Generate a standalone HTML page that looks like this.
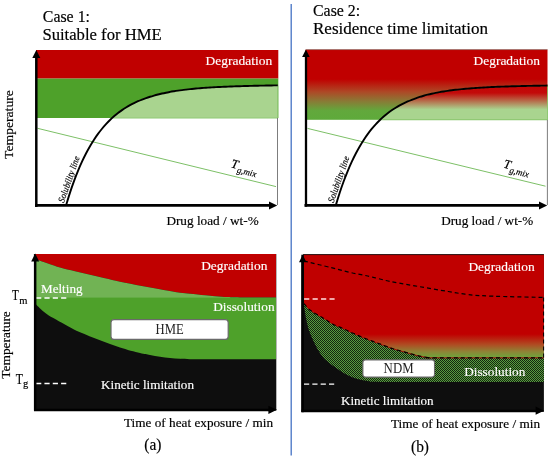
<!DOCTYPE html>
<html><head><meta charset="utf-8"><title>Figure</title>
<style>
html,body{margin:0;padding:0;background:#fff;}
svg{display:block;}
text{font-family:"Liberation Serif",serif;stroke:#000;stroke-width:0.18px;}
text[fill="#fff"]{stroke:#fff;stroke-width:0.15px;}
text.box{stroke:none;fill:#222;}
</style></head><body>
<svg width="550" height="457" viewBox="0 0 550 457">
<defs>
<linearGradient id="gtr" x1="0" y1="0" x2="0" y2="1">
<stop offset="0" stop-color="#C00000"/><stop offset="0.42" stop-color="#C00000"/><stop offset="0.6" stop-color="#AE4826"/><stop offset="0.74" stop-color="#887C36"/><stop offset="0.87" stop-color="#62A83C"/><stop offset="1" stop-color="#5EAA3A"/>
</linearGradient>
<linearGradient id="gtru" gradientUnits="userSpaceOnUse" x1="0" y1="84" x2="0" y2="119.8">
<stop offset="0" stop-color="#C20404"/><stop offset="0.25" stop-color="#C30A0A"/><stop offset="0.71" stop-color="#A9D48F"/><stop offset="1" stop-color="#A9D48F"/>
</linearGradient>
<linearGradient id="gbr" gradientUnits="userSpaceOnUse" x1="0" y1="254.7" x2="0" y2="357.8">
<stop offset="0" stop-color="#C00000"/><stop offset="0.77" stop-color="#C00000"/><stop offset="0.87" stop-color="#B04A22"/><stop offset="0.94" stop-color="#8E8436"/><stop offset="0.995" stop-color="#6EA43C"/><stop offset="1" stop-color="#6EA43C"/>
</linearGradient>
<pattern id="hatch" width="2" height="2" patternUnits="userSpaceOnUse">
<rect width="2" height="2" fill="#12260f"/><rect x="1" y="0" width="1" height="1" fill="#5A9C40"/><rect x="0" y="1" width="1" height="1" fill="#5A9C40"/>
</pattern>
</defs>
<rect width="550" height="457" fill="#fff"/>
<!-- divider -->
<line x1="291.2" y1="4" x2="291.2" y2="455.5" stroke="#4472C4" stroke-width="1.3"/>

<!-- titles -->
<text x="42.8" y="21.8" font-size="16.5" textLength="47.2" lengthAdjust="spacingAndGlyphs">Case 1:</text>
<text x="42.4" y="40.1" font-size="16.5" textLength="119.3" lengthAdjust="spacingAndGlyphs">Suitable for HME</text>
<text x="313" y="16.4" font-size="16.5" textLength="47.2" lengthAdjust="spacingAndGlyphs">Case 2:</text>
<text x="313" y="34.4" font-size="16.5" textLength="175" lengthAdjust="spacingAndGlyphs">Residence time limitation</text>

<!-- top-left plot -->
<rect x="36" y="50" width="242.3" height="28.6" fill="#C00000"/>
<rect x="36" y="78.6" width="242.3" height="39.4" fill="#4EA12A"/>
<path d="M112.09,118.10 L112.09,118.10 C112.41,117.81 113.01,117.18 114.00,116.34 C114.99,115.51 116.67,114.10 118.00,113.06 C119.33,112.03 120.67,111.06 122.00,110.13 C123.33,109.21 124.67,108.34 126.00,107.52 C127.33,106.69 128.67,105.92 130.00,105.18 C131.33,104.45 132.67,103.76 134.00,103.10 C135.33,102.44 136.67,101.82 138.00,101.24 C139.33,100.65 140.67,100.10 142.00,99.57 C143.33,99.05 144.67,98.55 146.00,98.08 C147.33,97.61 148.67,97.17 150.00,96.75 C151.33,96.33 152.67,95.94 154.00,95.56 C155.33,95.19 156.67,94.84 158.00,94.50 C159.33,94.17 160.67,93.85 162.00,93.55 C163.33,93.25 164.67,92.97 166.00,92.70 C167.33,92.43 168.67,92.18 170.00,91.93 C171.33,91.69 172.67,91.47 174.00,91.25 C175.33,91.03 176.67,90.83 178.00,90.64 C179.33,90.44 180.67,90.26 182.00,90.09 C183.33,89.91 184.67,89.75 186.00,89.59 C187.33,89.44 188.67,89.29 190.00,89.15 C191.33,89.01 192.67,88.88 194.00,88.75 C195.33,88.63 196.67,88.51 198.00,88.39 C199.33,88.28 200.67,88.17 202.00,88.07 C203.33,87.97 204.67,87.87 206.00,87.78 C207.33,87.68 208.67,87.60 210.00,87.51 C211.33,87.43 212.67,87.35 214.00,87.28 C215.33,87.20 216.67,87.13 218.00,87.06 C219.33,86.99 220.67,86.93 222.00,86.86 C223.33,86.80 224.67,86.74 226.00,86.69 C227.33,86.63 228.67,86.58 230.00,86.52 C231.33,86.47 232.67,86.42 234.00,86.38 C235.33,86.33 236.67,86.28 238.00,86.24 C239.33,86.20 240.67,86.16 242.00,86.12 C243.33,86.08 244.67,86.04 246.00,86.00 C247.33,85.97 248.67,85.93 250.00,85.90 C251.33,85.87 252.67,85.83 254.00,85.80 C255.33,85.77 256.67,85.74 258.00,85.71 C259.33,85.68 260.67,85.66 262.00,85.63 C263.33,85.60 264.67,85.58 266.00,85.55 C267.33,85.53 268.67,85.50 270.00,85.48 C271.33,85.46 272.70,85.43 274.00,85.41 C275.30,85.39 277.17,85.36 277.80,85.36 L277.80,118.10 Z" fill="#A9D48F" stroke="#86C56B" stroke-width="0.8"/>
<line x1="277.5" y1="118" x2="277.5" y2="205" stroke="#6e6e6e" stroke-width="0.9"/>
<line x1="37.5" y1="128.3" x2="276" y2="186.6" stroke="#7DC067" stroke-width="1"/>
<path d="M66.00,205.47 C66.67,203.33 68.67,196.65 70.00,192.58 C71.33,188.51 72.67,184.70 74.00,181.08 C75.33,177.45 76.67,174.05 78.00,170.82 C79.33,167.58 80.67,164.55 82.00,161.67 C83.33,158.78 84.67,156.08 86.00,153.50 C87.33,150.93 88.67,148.52 90.00,146.22 C91.33,143.92 92.67,141.77 94.00,139.72 C95.33,137.67 96.67,135.75 98.00,133.93 C99.33,132.10 100.67,130.39 102.00,128.75 C103.33,127.12 104.67,125.59 106.00,124.14 C107.33,122.68 108.67,121.32 110.00,120.02 C111.33,118.72 112.67,117.50 114.00,116.34 C115.33,115.18 116.67,114.10 118.00,113.06 C119.33,112.03 120.67,111.06 122.00,110.13 C123.33,109.21 124.67,108.34 126.00,107.52 C127.33,106.69 128.67,105.92 130.00,105.18 C131.33,104.45 132.67,103.76 134.00,103.10 C135.33,102.44 136.67,101.82 138.00,101.24 C139.33,100.65 140.67,100.10 142.00,99.57 C143.33,99.05 144.67,98.55 146.00,98.08 C147.33,97.61 148.67,97.17 150.00,96.75 C151.33,96.33 152.67,95.94 154.00,95.56 C155.33,95.19 156.67,94.84 158.00,94.50 C159.33,94.17 160.67,93.85 162.00,93.55 C163.33,93.25 164.67,92.97 166.00,92.70 C167.33,92.43 168.67,92.18 170.00,91.93 C171.33,91.69 172.67,91.47 174.00,91.25 C175.33,91.03 176.67,90.83 178.00,90.64 C179.33,90.44 180.67,90.26 182.00,90.09 C183.33,89.91 184.67,89.75 186.00,89.59 C187.33,89.44 188.67,89.29 190.00,89.15 C191.33,89.01 192.67,88.88 194.00,88.75 C195.33,88.63 196.67,88.51 198.00,88.39 C199.33,88.28 200.67,88.17 202.00,88.07 C203.33,87.97 204.67,87.87 206.00,87.78 C207.33,87.68 208.67,87.60 210.00,87.51 C211.33,87.43 212.67,87.35 214.00,87.28 C215.33,87.20 216.67,87.13 218.00,87.06 C219.33,86.99 220.67,86.93 222.00,86.86 C223.33,86.80 224.67,86.74 226.00,86.69 C227.33,86.63 228.67,86.58 230.00,86.52 C231.33,86.47 232.67,86.42 234.00,86.38 C235.33,86.33 236.67,86.28 238.00,86.24 C239.33,86.20 240.67,86.16 242.00,86.12 C243.33,86.08 244.67,86.04 246.00,86.00 C247.33,85.97 248.67,85.93 250.00,85.90 C251.33,85.87 252.67,85.83 254.00,85.80 C255.33,85.77 256.67,85.74 258.00,85.71 C259.33,85.68 260.67,85.66 262.00,85.63 C263.33,85.60 264.67,85.58 266.00,85.55 C267.33,85.53 268.67,85.50 270.00,85.48 C271.33,85.46 272.70,85.43 274.00,85.41 C275.30,85.39 277.17,85.36 277.80,85.36" fill="none" stroke="#000" stroke-width="1.9"/>
<line x1="36.3" y1="56" x2="36.3" y2="207" stroke="#000" stroke-width="2.5"/>
<path d="M36.3,50 L40.3,58 L32.3,58 Z" fill="#000"/>
<line x1="35" y1="205.4" x2="270" y2="205.4" stroke="#000" stroke-width="2.6"/>
<path d="M277.2,205.4 L269,201.4 L269,209.4 Z" fill="#000"/>
<text x="205.5" y="64.6" font-size="13.5" fill="#fff" textLength="66.7" lengthAdjust="spacingAndGlyphs">Degradation</text>
<text transform="translate(12.9,158.9) rotate(-90)" font-size="13.5" textLength="68.7" lengthAdjust="spacingAndGlyphs">Temperature</text>
<text x="166.4" y="224.5" font-size="13.5" textLength="92.3" lengthAdjust="spacingAndGlyphs">Drug load / wt-%</text>
<text transform="translate(230.5,167.3) rotate(14)" font-size="12.5" font-style="italic">T<tspan font-size="9" dy="3.5">g,mix</tspan></text>
<text transform="translate(63.8,203.2) rotate(-70.7)" font-size="9.4" font-style="italic" textLength="48.5" lengthAdjust="spacingAndGlyphs">Solubility line</text>

<!-- top-right plot -->
<rect x="305.5" y="49.6" width="242" height="70.2" fill="url(#gtr)"/>
<line x1="306" y1="49.6" x2="547.5" y2="49.6" stroke="#7a5a50" stroke-width="0.6"/>
<path d="M380.16,119.80 L380.16,119.80 C380.75,119.26 382.44,117.63 383.70,116.54 C384.96,115.46 386.37,114.30 387.70,113.26 C389.03,112.23 390.37,111.26 391.70,110.33 C393.03,109.41 394.37,108.54 395.70,107.72 C397.03,106.89 398.37,106.12 399.70,105.38 C401.03,104.65 402.37,103.96 403.70,103.30 C405.03,102.64 406.37,102.02 407.70,101.44 C409.03,100.85 410.37,100.30 411.70,99.77 C413.03,99.25 414.37,98.75 415.70,98.28 C417.03,97.81 418.37,97.37 419.70,96.95 C421.03,96.53 422.37,96.14 423.70,95.76 C425.03,95.39 426.37,95.04 427.70,94.70 C429.03,94.37 430.37,94.05 431.70,93.75 C433.03,93.45 434.37,93.17 435.70,92.90 C437.03,92.63 438.37,92.38 439.70,92.13 C441.03,91.89 442.37,91.67 443.70,91.45 C445.03,91.23 446.37,91.03 447.70,90.84 C449.03,90.64 450.37,90.46 451.70,90.29 C453.03,90.11 454.37,89.95 455.70,89.79 C457.03,89.64 458.37,89.49 459.70,89.35 C461.03,89.21 462.37,89.08 463.70,88.95 C465.03,88.83 466.37,88.71 467.70,88.59 C469.03,88.48 470.37,88.37 471.70,88.27 C473.03,88.17 474.37,88.07 475.70,87.98 C477.03,87.88 478.37,87.80 479.70,87.71 C481.03,87.63 482.37,87.55 483.70,87.48 C485.03,87.40 486.37,87.33 487.70,87.26 C489.03,87.19 490.37,87.13 491.70,87.06 C493.03,87.00 494.37,86.94 495.70,86.89 C497.03,86.83 498.37,86.78 499.70,86.72 C501.03,86.67 502.37,86.62 503.70,86.58 C505.03,86.53 506.37,86.48 507.70,86.44 C509.03,86.40 510.37,86.36 511.70,86.32 C513.03,86.28 514.37,86.24 515.70,86.20 C517.03,86.17 518.37,86.13 519.70,86.10 C521.03,86.07 522.37,86.03 523.70,86.00 C525.03,85.97 526.37,85.94 527.70,85.91 C529.03,85.88 530.37,85.86 531.70,85.83 C533.03,85.80 534.37,85.78 535.70,85.75 C537.03,85.73 538.37,85.70 539.70,85.68 C541.03,85.66 542.40,85.63 543.70,85.61 C545.00,85.59 546.87,85.56 547.50,85.56 L547.50,119.80 Z" fill="url(#gtru)" stroke="#86C56B" stroke-width="0.8"/>
<line x1="547.4" y1="119.8" x2="547.4" y2="205" stroke="#6e6e6e" stroke-width="0.9"/>
<line x1="307.5" y1="128.4" x2="545.5" y2="186.2" stroke="#7DC067" stroke-width="1"/>
<path d="M335.70,205.67 C336.37,203.53 338.37,196.85 339.70,192.78 C341.03,188.71 342.37,184.90 343.70,181.28 C345.03,177.65 346.37,174.25 347.70,171.02 C349.03,167.78 350.37,164.75 351.70,161.87 C353.03,158.98 354.37,156.28 355.70,153.70 C357.03,151.13 358.37,148.72 359.70,146.42 C361.03,144.12 362.37,141.97 363.70,139.92 C365.03,137.87 366.37,135.95 367.70,134.13 C369.03,132.30 370.37,130.59 371.70,128.95 C373.03,127.32 374.37,125.79 375.70,124.34 C377.03,122.88 378.37,121.52 379.70,120.22 C381.03,118.92 382.37,117.70 383.70,116.54 C385.03,115.38 386.37,114.30 387.70,113.26 C389.03,112.23 390.37,111.26 391.70,110.33 C393.03,109.41 394.37,108.54 395.70,107.72 C397.03,106.89 398.37,106.12 399.70,105.38 C401.03,104.65 402.37,103.96 403.70,103.30 C405.03,102.64 406.37,102.02 407.70,101.44 C409.03,100.85 410.37,100.30 411.70,99.77 C413.03,99.25 414.37,98.75 415.70,98.28 C417.03,97.81 418.37,97.37 419.70,96.95 C421.03,96.53 422.37,96.14 423.70,95.76 C425.03,95.39 426.37,95.04 427.70,94.70 C429.03,94.37 430.37,94.05 431.70,93.75 C433.03,93.45 434.37,93.17 435.70,92.90 C437.03,92.63 438.37,92.38 439.70,92.13 C441.03,91.89 442.37,91.67 443.70,91.45 C445.03,91.23 446.37,91.03 447.70,90.84 C449.03,90.64 450.37,90.46 451.70,90.29 C453.03,90.11 454.37,89.95 455.70,89.79 C457.03,89.64 458.37,89.49 459.70,89.35 C461.03,89.21 462.37,89.08 463.70,88.95 C465.03,88.83 466.37,88.71 467.70,88.59 C469.03,88.48 470.37,88.37 471.70,88.27 C473.03,88.17 474.37,88.07 475.70,87.98 C477.03,87.88 478.37,87.80 479.70,87.71 C481.03,87.63 482.37,87.55 483.70,87.48 C485.03,87.40 486.37,87.33 487.70,87.26 C489.03,87.19 490.37,87.13 491.70,87.06 C493.03,87.00 494.37,86.94 495.70,86.89 C497.03,86.83 498.37,86.78 499.70,86.72 C501.03,86.67 502.37,86.62 503.70,86.58 C505.03,86.53 506.37,86.48 507.70,86.44 C509.03,86.40 510.37,86.36 511.70,86.32 C513.03,86.28 514.37,86.24 515.70,86.20 C517.03,86.17 518.37,86.13 519.70,86.10 C521.03,86.07 522.37,86.03 523.70,86.00 C525.03,85.97 526.37,85.94 527.70,85.91 C529.03,85.88 530.37,85.86 531.70,85.83 C533.03,85.80 534.37,85.78 535.70,85.75 C537.03,85.73 538.37,85.70 539.70,85.68 C541.03,85.66 542.40,85.63 543.70,85.61 C545.00,85.59 546.87,85.56 547.50,85.56" fill="none" stroke="#000" stroke-width="1.9"/>
<line x1="306" y1="56" x2="306" y2="206.7" stroke="#000" stroke-width="2.3"/>
<path d="M305.9,49.6 L309.7,57 L302.1,57 Z" fill="#000"/>
<line x1="304.5" y1="205.4" x2="540" y2="205.4" stroke="#000" stroke-width="2.6"/>
<path d="M547.2,205.4 L539,201.4 L539,209.4 Z" fill="#000"/>
<text x="473.5" y="65" font-size="13.5" fill="#fff" textLength="66.5" lengthAdjust="spacingAndGlyphs">Degradation</text>
<text x="441.2" y="224.5" font-size="13.5" textLength="92" lengthAdjust="spacingAndGlyphs">Drug load / wt-%</text>
<text transform="translate(503,167.6) rotate(14)" font-size="12.5" font-style="italic">T<tspan font-size="9" dy="3.5">g,mix</tspan></text>
<text transform="translate(333.5,203.2) rotate(-70.7)" font-size="9.4" font-style="italic" textLength="48.5" lengthAdjust="spacingAndGlyphs">Solubility line</text>

<!-- bottom-left plot -->
<rect x="33.9" y="254" width="242.4" height="156.6" fill="#0e0e0e"/>
<path d="M35,254 L276.0,254 L276.0,297.4 L276.00,297.40 C270.00,297.40 248.00,297.47 240.00,297.40 C232.00,297.33 232.17,297.20 228.00,297.00 C223.83,296.80 218.83,296.48 215.00,296.20 C211.17,295.92 209.17,295.72 205.00,295.30 C200.83,294.88 194.17,294.13 190.00,293.70 C185.83,293.27 184.40,293.32 180.00,292.70 C175.60,292.08 169.97,291.12 163.60,290.00 C157.23,288.88 149.07,287.38 141.80,286.00 C134.53,284.62 126.13,282.98 120.00,281.70 C113.87,280.42 110.00,279.45 105.00,278.30 C100.00,277.15 95.00,275.97 90.00,274.80 C85.00,273.63 80.00,272.52 75.00,271.30 C70.00,270.08 64.17,268.68 60.00,267.50 C55.83,266.32 53.00,265.22 50.00,264.20 C47.00,263.18 44.50,262.32 42.00,261.40 C39.50,260.48 36.17,259.15 35.00,258.70 Z" fill="#C00000"/>
<path d="M35.00,258.70 C36.17,259.15 39.50,260.48 42.00,261.40 C44.50,262.32 47.00,263.18 50.00,264.20 C53.00,265.22 55.83,266.32 60.00,267.50 C64.17,268.68 70.00,270.08 75.00,271.30 C80.00,272.52 85.00,273.63 90.00,274.80 C95.00,275.97 100.00,277.15 105.00,278.30 C110.00,279.45 113.87,280.42 120.00,281.70 C126.13,282.98 134.53,284.62 141.80,286.00 C149.07,287.38 157.23,288.88 163.60,290.00 C169.97,291.12 175.60,292.08 180.00,292.70 C184.40,293.32 185.83,293.27 190.00,293.70 C194.17,294.13 200.83,294.88 205.00,295.30 C209.17,295.72 211.17,295.92 215.00,296.20 C218.83,296.48 223.83,296.80 228.00,297.00 C232.17,297.20 232.00,297.33 240.00,297.40 C248.00,297.47 270.00,297.40 276.00,297.40 L276.0,359.3 L276.00,359.30 C264.17,359.30 219.33,359.32 205.00,359.30 C190.67,359.28 194.17,359.28 190.00,359.20 C185.83,359.12 183.33,358.98 180.00,358.80 C176.67,358.62 173.33,358.43 170.00,358.10 C166.67,357.77 163.33,357.33 160.00,356.80 C156.67,356.27 153.33,355.53 150.00,354.90 C146.67,354.27 145.00,354.25 140.00,353.00 C135.00,351.75 126.67,349.53 120.00,347.40 C113.33,345.27 106.67,342.72 100.00,340.20 C93.33,337.68 85.33,334.62 80.00,332.30 C74.67,329.98 72.00,328.42 68.00,326.30 C64.00,324.18 59.67,321.73 56.00,319.60 C52.33,317.47 49.17,315.85 46.00,313.50 C42.83,311.15 38.75,307.17 37.00,305.50 C35.25,303.83 35.75,303.83 35.50,303.50 Z" fill="#4EA12A"/>
<clipPath id="cg"><path d="M35.00,258.70 C36.17,259.15 39.50,260.48 42.00,261.40 C44.50,262.32 47.00,263.18 50.00,264.20 C53.00,265.22 55.83,266.32 60.00,267.50 C64.17,268.68 70.00,270.08 75.00,271.30 C80.00,272.52 85.00,273.63 90.00,274.80 C95.00,275.97 100.00,277.15 105.00,278.30 C110.00,279.45 113.87,280.42 120.00,281.70 C126.13,282.98 134.53,284.62 141.80,286.00 C149.07,287.38 157.23,288.88 163.60,290.00 C169.97,291.12 175.60,292.08 180.00,292.70 C184.40,293.32 185.83,293.27 190.00,293.70 C194.17,294.13 200.83,294.88 205.00,295.30 C209.17,295.72 211.17,295.92 215.00,296.20 C218.83,296.48 223.83,296.80 228.00,297.00 C232.17,297.20 232.00,297.33 240.00,297.40 C248.00,297.47 270.00,297.40 276.00,297.40 L276.0,359.3 L276.00,359.30 C264.17,359.30 219.33,359.32 205.00,359.30 C190.67,359.28 194.17,359.28 190.00,359.20 C185.83,359.12 183.33,358.98 180.00,358.80 C176.67,358.62 173.33,358.43 170.00,358.10 C166.67,357.77 163.33,357.33 160.00,356.80 C156.67,356.27 153.33,355.53 150.00,354.90 C146.67,354.27 145.00,354.25 140.00,353.00 C135.00,351.75 126.67,349.53 120.00,347.40 C113.33,345.27 106.67,342.72 100.00,340.20 C93.33,337.68 85.33,334.62 80.00,332.30 C74.67,329.98 72.00,328.42 68.00,326.30 C64.00,324.18 59.67,321.73 56.00,319.60 C52.33,317.47 49.17,315.85 46.00,313.50 C42.83,311.15 38.75,307.17 37.00,305.50 C35.25,303.83 35.75,303.83 35.50,303.50 Z"/></clipPath>
<rect x="36" y="250" width="241" height="47.6" fill="#fff" opacity="0.2" clip-path="url(#cg)"/>
<line x1="36.1" y1="298" x2="66.3" y2="298" stroke="#fff" stroke-width="1.3" stroke-dasharray="5.2,3.13"/>
<line x1="36.1" y1="383.5" x2="66.3" y2="383.5" stroke="#fff" stroke-width="1.3" stroke-dasharray="5.2,3.13"/>
<line x1="35.2" y1="260" x2="35.2" y2="411" stroke="#000" stroke-width="2.4"/>
<path d="M35.2,253.5 L39.2,261.5 L31.2,261.5 Z" fill="#000"/>
<line x1="34" y1="410" x2="270" y2="410" stroke="#000" stroke-width="2.4"/>
<path d="M277,409.8 L268.4,405.7 L268.4,413.9 Z" fill="#000"/>
<rect x="111" y="319.6" width="117.2" height="19.8" rx="3" ry="3" fill="#fff" stroke="#6a6a6a" stroke-width="1.2"/>
<text class="box" x="155.5" y="333.8" font-size="13.8" textLength="28.2" lengthAdjust="spacingAndGlyphs">HME</text>
<text x="201.2" y="269.8" font-size="13.5" fill="#fff" textLength="66.3" lengthAdjust="spacingAndGlyphs">Degradation</text>
<text x="213.2" y="311.3" font-size="13.5" fill="#fff" textLength="61.4" lengthAdjust="spacingAndGlyphs">Dissolution</text>
<text x="41" y="292.5" font-size="13.5" fill="#fff" textLength="41.5" lengthAdjust="spacingAndGlyphs">Melting</text>
<text x="101" y="389" font-size="13.5" fill="#fff" textLength="93" lengthAdjust="spacingAndGlyphs">Kinetic limitation</text>
<text x="12" y="299.7" font-size="14.5" textLength="6.8" lengthAdjust="spacingAndGlyphs">T</text><text x="19.3" y="303.6" font-size="10.5">m</text>
<text x="15.7" y="383.5" font-size="14.5" textLength="7.2" lengthAdjust="spacingAndGlyphs">T</text><text x="23" y="387.3" font-size="10.5">g</text>
<text transform="translate(10.4,378.7) rotate(-90)" font-size="13.5" textLength="67.5" lengthAdjust="spacingAndGlyphs">Temperature</text>
<text x="124" y="426.5" font-size="13.5" textLength="149" lengthAdjust="spacingAndGlyphs">Time of heat exposure / min</text>
<text x="144.3" y="450" font-size="16.5" textLength="17.2" lengthAdjust="spacingAndGlyphs">(a)</text>

<!-- bottom-right plot -->
<rect x="301.3" y="254.7" width="242.6" height="157.2" fill="#0e0e0e"/>
<path d="M304,254.7 L543.9,254.7 L543.9,357.8 L543.90,357.80 C525.92,357.80 455.32,357.85 436.00,357.80 C416.68,357.75 430.50,357.73 428.00,357.50 C425.50,357.27 423.50,356.92 421.00,356.40 C418.50,355.88 416.03,355.22 413.00,354.40 C409.97,353.58 406.13,352.43 402.80,351.50 C399.47,350.57 396.27,349.85 393.00,348.80 C389.73,347.75 386.53,346.43 383.20,345.20 C379.87,343.97 376.40,342.68 373.00,341.40 C369.60,340.12 366.13,338.87 362.80,337.50 C359.47,336.13 356.27,334.68 353.00,333.20 C349.73,331.72 346.53,330.10 343.20,328.60 C339.87,327.10 336.08,325.80 333.00,324.20 C329.92,322.60 327.30,320.58 324.70,319.00 C322.10,317.42 319.92,316.23 317.40,314.70 C314.88,313.17 311.83,311.65 309.60,309.80 C307.37,307.95 304.93,304.63 304.00,303.60 Z" fill="url(#gbr)"/>
<path d="M304.00,303.60 C304.93,304.63 307.37,307.95 309.60,309.80 C311.83,311.65 314.88,313.17 317.40,314.70 C319.92,316.23 322.10,317.42 324.70,319.00 C327.30,320.58 329.92,322.60 333.00,324.20 C336.08,325.80 339.87,327.10 343.20,328.60 C346.53,330.10 349.73,331.72 353.00,333.20 C356.27,334.68 359.47,336.13 362.80,337.50 C366.13,338.87 369.60,340.12 373.00,341.40 C376.40,342.68 379.87,343.97 383.20,345.20 C386.53,346.43 389.73,347.75 393.00,348.80 C396.27,349.85 399.47,350.57 402.80,351.50 C406.13,352.43 409.97,353.58 413.00,354.40 C416.03,355.22 418.50,355.88 421.00,356.40 C423.50,356.92 425.50,357.27 428.00,357.50 C430.50,357.73 416.68,357.75 436.00,357.80 C455.32,357.85 525.92,357.80 543.90,357.80 L543.9,382 L543.90,382.00 C516.58,381.98 408.90,382.00 380.00,381.90 C351.10,381.80 373.60,381.72 370.50,381.40 C367.40,381.08 364.43,380.68 361.40,380.00 C358.37,379.32 355.33,378.52 352.30,377.30 C349.27,376.08 346.23,374.48 343.20,372.70 C340.17,370.92 336.72,368.47 334.10,366.60 C331.48,364.73 329.40,363.10 327.50,361.50 C325.60,359.90 324.32,358.98 322.70,357.00 C321.08,355.02 319.43,352.48 317.80,349.60 C316.17,346.72 314.38,342.98 312.90,339.70 C311.42,336.42 309.98,333.18 308.90,329.90 C307.82,326.62 307.05,322.98 306.40,320.00 C305.75,317.02 305.40,314.50 305.00,312.00 C304.60,309.50 304.17,306.17 304.00,305.00 Z" fill="url(#hatch)"/>
<path d="M304.00,303.60 C304.93,304.63 307.37,307.95 309.60,309.80 C311.83,311.65 314.88,313.17 317.40,314.70 C319.92,316.23 322.10,317.42 324.70,319.00 C327.30,320.58 329.92,322.60 333.00,324.20 C336.08,325.80 339.87,327.10 343.20,328.60 C346.53,330.10 349.73,331.72 353.00,333.20 C356.27,334.68 359.47,336.13 362.80,337.50 C366.13,338.87 369.60,340.12 373.00,341.40 C376.40,342.68 379.87,343.97 383.20,345.20 C386.53,346.43 389.73,347.75 393.00,348.80 C396.27,349.85 399.47,350.57 402.80,351.50 C406.13,352.43 409.97,353.58 413.00,354.40 C416.03,355.22 418.50,355.88 421.00,356.40 C423.50,356.92 425.50,357.27 428.00,357.50 C430.50,357.73 416.68,357.75 436.00,357.80 C455.32,357.85 525.92,357.80 543.90,357.80" fill="none" stroke="#C00000" stroke-width="0.8"/>
<path d="M304.00,303.60 C304.93,304.63 307.37,307.95 309.60,309.80 C311.83,311.65 314.88,313.17 317.40,314.70 C319.92,316.23 322.10,317.42 324.70,319.00 C327.30,320.58 329.92,322.60 333.00,324.20 C336.08,325.80 339.87,327.10 343.20,328.60 C346.53,330.10 349.73,331.72 353.00,333.20 C356.27,334.68 359.47,336.13 362.80,337.50 C366.13,338.87 369.60,340.12 373.00,341.40 C376.40,342.68 379.87,343.97 383.20,345.20 C386.53,346.43 389.73,347.75 393.00,348.80 C396.27,349.85 399.47,350.57 402.80,351.50 C406.13,352.43 409.97,353.58 413.00,354.40 C416.03,355.22 418.50,355.88 421.00,356.40 C423.50,356.92 425.50,357.27 428.00,357.50 C430.50,357.73 416.68,357.75 436.00,357.80 C455.32,357.85 525.92,357.80 543.90,357.80" fill="none" stroke="#000" stroke-width="1.2" stroke-dasharray="4,3"/>
<path d="M304.00,261.00 C308.57,262.12 323.82,265.82 331.40,267.70 C338.98,269.58 343.45,270.92 349.50,272.30 C355.55,273.68 361.63,274.63 367.70,276.00 C373.77,277.37 381.35,279.45 385.90,280.50 C390.45,281.55 389.48,281.28 395.00,282.30 C400.52,283.32 410.13,285.07 419.00,286.60 C427.87,288.13 440.53,290.23 448.20,291.50 C455.87,292.77 459.70,293.52 465.00,294.20 C470.30,294.88 473.10,295.20 480.00,295.60 C486.90,296.00 495.75,296.30 506.40,296.60 C517.05,296.90 537.65,297.27 543.90,297.40" fill="none" stroke="#000" stroke-width="1.2" stroke-dasharray="4,3"/>
<line x1="543.6" y1="297.5" x2="543.6" y2="358" stroke="#000" stroke-width="1" stroke-dasharray="4,3"/>
<line x1="303" y1="254.6" x2="543.9" y2="254.6" stroke="#1a0000" stroke-width="0.9"/>
<line x1="304.1" y1="299" x2="334.6" y2="299" stroke="#FFE0E0" stroke-width="1.6" stroke-dasharray="5.2,3.27"/>
<line x1="304" y1="384.2" x2="334.2" y2="384.2" stroke="#fff" stroke-width="1.3" stroke-dasharray="5.2,3.13"/>
<line x1="302.6" y1="261" x2="302.6" y2="412.2" stroke="#000" stroke-width="2.4"/>
<path d="M302.7,254.7 L306.4,262.2 L299,262.2 Z" fill="#000"/>
<line x1="301.4" y1="411" x2="537" y2="411" stroke="#000" stroke-width="2.4"/>
<path d="M544.1,410.7 L535.6,406.6 L535.6,414.8 Z" fill="#000"/>
<rect x="362.9" y="359.9" width="71.6" height="17.2" rx="2.5" ry="2.5" fill="#fff" stroke="#6a6a6a" stroke-width="1.1"/>
<text class="box" x="383.6" y="372.9" font-size="14.3" textLength="30" lengthAdjust="spacingAndGlyphs">NDM</text>
<text x="468.4" y="270.6" font-size="13.5" fill="#fff" textLength="66.4" lengthAdjust="spacingAndGlyphs">Degradation</text>
<text x="464.2" y="375.5" font-size="13.5" fill="#fff" textLength="61.2" lengthAdjust="spacingAndGlyphs">Dissolution</text>
<text x="341" y="404.7" font-size="13.5" fill="#fff" textLength="92.6" lengthAdjust="spacingAndGlyphs">Kinetic limitation</text>
<text x="391" y="427.8" font-size="13.5" textLength="149" lengthAdjust="spacingAndGlyphs">Time of heat exposure / min</text>
<text x="411" y="451.6" font-size="16.5" textLength="18" lengthAdjust="spacingAndGlyphs">(b)</text>
</svg>
</body></html>
